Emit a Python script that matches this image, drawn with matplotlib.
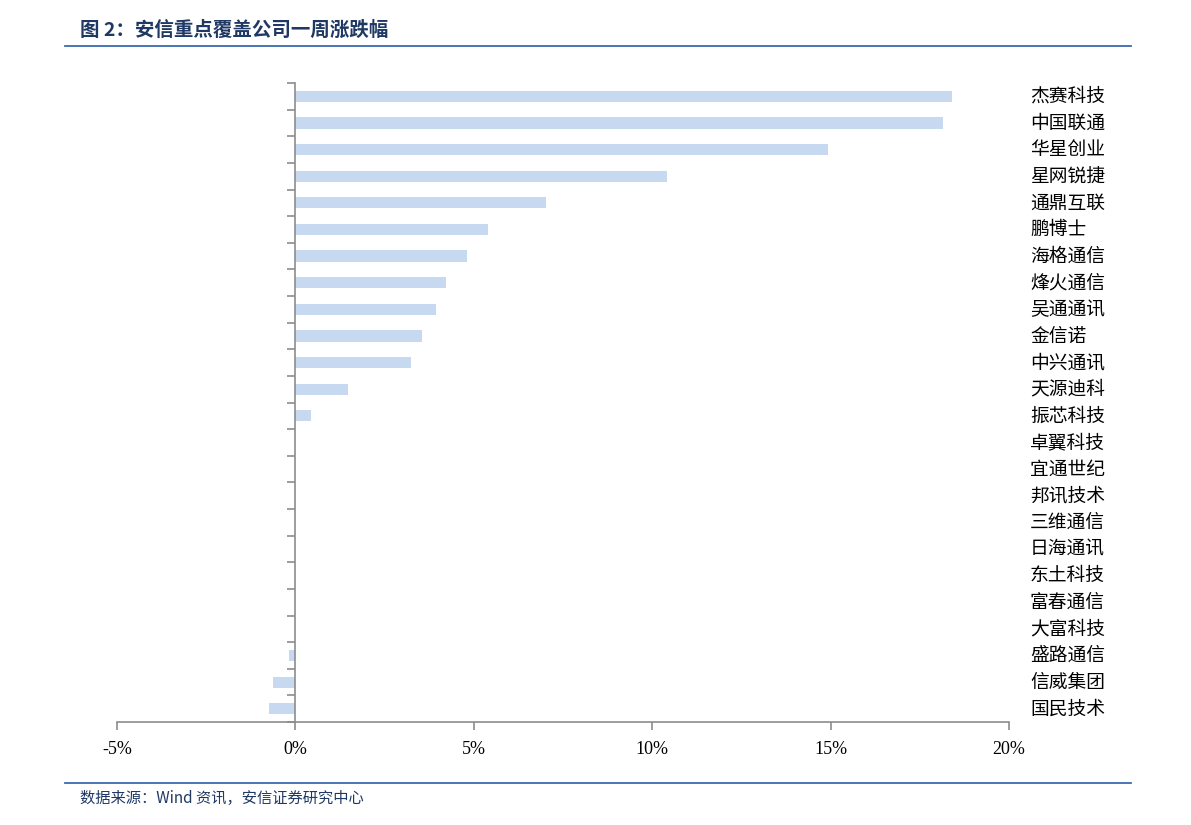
import matplotlib.pyplot as plt
from matplotlib.lines import Line2D
import numpy as np

plt.rcParams['font.family'] = ['Noto Sans CJK SC', 'DejaVu Sans']

companies = ["杰赛科技", "中国联通", "华星创业", "星网锐捷", "通鼎互联", "鹏博士",
             "海格通信", "烽火通信", "吴通通讯", "金信诺", "中兴通讯", "天源迪科",
             "振芯科技", "卓翼科技", "宜通世纪", "邦讯技术", "三维通信", "日海通讯",
             "东土科技", "富春通信", "大富科技", "盛路通信", "信威集团", "国民技术"]
changes = [18.40, 18.15, 14.92, 10.41, 7.02, 5.40, 4.81, 4.22, 3.94, 3.55, 3.24,
           1.47, 0.43, 0, 0, 0, 0, 0, 0, 0, 0, -0.17, -0.62, -0.73]
xticks = [-5, 0, 5, 10, 15, 20]

fig = plt.figure(figsize=(11.91, 8.25), dpi=100)
ax = fig.add_axes([0.0982, 0.1248, 0.749, 0.7746])

pos = np.arange(len(companies))
ax.barh(pos, changes, height=0.42, color='#C6D9F1')
ax.set_ylim(len(companies) - 0.5, -0.5)
ax.set_xlim(-5, 20)

axis_color = '#8C8C8C'
for s in ['top', 'right']:
    ax.spines[s].set_visible(False)
ax.spines['left'].set_position(('data', 0))
ax.spines['left'].set_color(axis_color)
ax.spines['bottom'].set_color(axis_color)
ax.spines['left'].set_linewidth(1.2)
ax.spines['bottom'].set_linewidth(1.2)

ax.set_yticks(np.arange(len(companies) + 1) - 0.5)
ax.set_yticklabels([])
ax.tick_params(axis='y', length=6, width=1.2, color=axis_color, direction='out')
ax.set_xticks(xticks)
ax.set_xticklabels([f"{t}%" for t in xticks], fontsize=13, family='Liberation Serif')
ax.tick_params(axis='x', length=6, width=1.2, color=axis_color, pad=8)

for i, name in enumerate(companies):
    ax.text(1.0235, i, name, transform=ax.get_yaxis_transform(),
            ha='left', va='center', fontsize=13.5, color='black')

# 标题与分隔线
fig.text(80 / 1191, 1 - 30 / 825, "图 2：安信重点覆盖公司一周涨跌幅",
         fontsize=14, weight='bold', color='#1F3864', va='center', ha='left')
fig.add_artist(Line2D([65 / 1191, 1131 / 1191], [1 - 46 / 825] * 2,
                      color='#3A6AB0', lw=1.3))
fig.add_artist(Line2D([65 / 1191, 1131 / 1191], [1 - 783 / 825] * 2,
                      color='#3A6AB0', lw=1.3))
fig.text(80 / 1191, 1 - 798 / 825, "数据来源：Wind 资讯，安信证券研究中心",
         fontsize=11, style='italic', color='#1F3864', va='center', ha='left')

fig.savefig("out.png", dpi=100)
